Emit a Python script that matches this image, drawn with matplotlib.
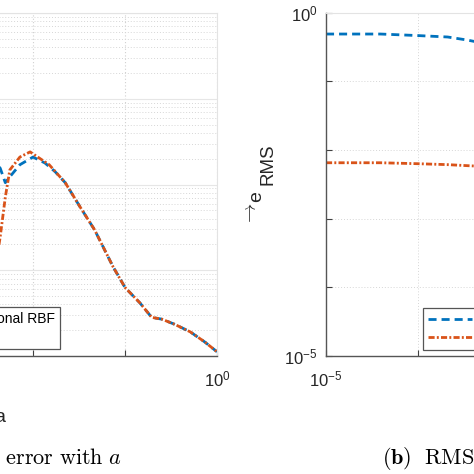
import numpy as np
import matplotlib
matplotlib.use("Agg")
import matplotlib.pyplot as plt
from matplotlib.ticker import LogLocator, FuncFormatter, NullFormatter

plt.rcParams['font.family'] = ['Liberation Sans', 'DejaVu Sans']
plt.rcParams['mathtext.fontset'] = 'custom'
plt.rcParams['mathtext.rm'] = 'Liberation Sans'
plt.rcParams['mathtext.it'] = 'Liberation Sans:italic'
plt.rcParams['axes.unicode_minus'] = False

# ── data ──────────────────────────────────────────────────
# (a) error vs a
a_left = [1e-5, 1e-4, 1e-3, 2.5e-3, 3.5e-3, 4.0e-3, 4.4e-3, 5.0e-3, 5.6e-3,
          7.2e-3, 9.3e-3, 1.5e-2, 2.24e-2, 3.24e-2, 4.68e-2, 7.41e-2, 0.1,
          0.145, 0.195, 0.251, 0.347, 0.513, 0.741, 1.0]
e_prop_left = [5.0e-4, 5.0e-4, 5.0e-4, 4.0e-4, 6.3e-4, 1.26e-3, 2.45e-3, 7.1e-3,
               1.48e-2, 2.09e-2, 2.40e-2, 1.70e-2, 1.05e-2, 5.5e-3, 2.95e-3,
               1.10e-3, 6.3e-4, 4.17e-4, 2.82e-4, 2.69e-4, 2.34e-4, 1.91e-4,
               1.45e-4, 1.12e-4]
a_conv_left = [1e-5, 1e-4, 1e-3, 2.5e-3, 3.5e-3, 4.4e-3, 5.0e-3, 5.6e-3, 7.2e-3,
               1.0e-2, 1.35e-2, 1.74e-2, 2.24e-2, 3.24e-2, 4.68e-2, 7.41e-2, 0.1,
               0.145, 0.195, 0.251, 0.347, 0.513, 0.741, 1.0]
e_conv_left = [6.3e-2, 5.6e-2, 4.0e-2, 2.8e-2, 2.0e-2, 1.55e-2, 1.05e-2, 1.23e-2,
               1.70e-2, 2.09e-2, 1.78e-2, 1.41e-2, 1.05e-2, 5.5e-3, 2.95e-3,
               1.10e-3, 6.3e-4, 4.17e-4, 2.82e-4, 2.69e-4, 2.34e-4, 1.91e-4,
               1.45e-4, 1.12e-4]

# (b) RMS error, second sweep
x_right = [1e-5, 3.9e-5, 9.8e-5, 2.1e-4, 3.4e-4, 1e-3, 1e-2, 1e-1, 1.0]
e_conv_right = [0.486, 0.486, 0.462, 0.44, 0.398, 0.30, 0.08, 0.02, 0.01]
e_prop_right = [6.5e-3, 6.5e-3, 6.3e-3, 6.1e-3, 5.9e-3, 5.5e-3, 4e-3, 2e-3, 1e-3]

labels = ["Conventional RBF", "Proposed"]

BLUE = "#0072BD"
ORANGE = "#D95319"
TXT = "#262626"
W = H = 474.0


def px_axes(x0, y0, x1, y1):
    # pixel box (top-left origin) -> figure fraction
    return [x0 / W, 1 - y1 / H, (x1 - x0) / W, (y1 - y0) / H]


def end_labels(lo, hi):
    def f(v, pos):
        e = int(round(np.log10(v)))
        if e in (lo, hi):
            return r"$\mathdefault{10^{%d}}$" % e
        return ""
    return FuncFormatter(f)


def style_axes(ax, ylo):
    ax.set_xscale("log")
    ax.set_yscale("log")
    ax.set_xlim(1e-5, 1e0)
    ax.set_ylim(10.0 ** ylo, 1e0)
    ax.xaxis.set_major_locator(LogLocator(base=10, numticks=10))
    ax.yaxis.set_major_locator(LogLocator(base=10, numticks=10))
    ax.xaxis.set_major_formatter(end_labels(-5, 0))
    ax.yaxis.set_major_formatter(end_labels(ylo, 0))
    ax.tick_params(which="major", direction="in", length=4, width=0.8,
                   color="#404040", labelsize=12, labelcolor=TXT)
    ax.tick_params(axis="x", pad=10)
    ax.tick_params(axis="y", pad=6)
    ax.tick_params(which="minor", length=0)
    ax.xaxis.set_minor_formatter(NullFormatter())
    ax.yaxis.set_minor_formatter(NullFormatter())
    for s in ("left", "bottom"):
        ax.spines[s].set_color("#555555")
        ax.spines[s].set_linewidth(1.0)
    for s in ("top", "right"):
        ax.spines[s].set_color("#e3e3e3")
        ax.spines[s].set_linewidth(0.8)
    ax.set_axisbelow(True)


def add_legend(ax, loc, anchor):
    leg = ax.legend(loc=loc, bbox_to_anchor=anchor, bbox_transform=fig.transFigure,
                    borderaxespad=0, fontsize=10, handlelength=3.2,
                    handletextpad=0.6, labelspacing=0.3, borderpad=0.35,
                    fancybox=False, framealpha=1, edgecolor="#555555")
    leg.get_frame().set_linewidth(0.9)
    return leg


fig = plt.figure(figsize=(4.74, 4.74), dpi=100)

# ── left panel (mostly cropped) ──
ax1 = fig.add_axes(px_axes(-243, 13, 217, 356))
style_axes(ax1, -4)
ax1.yaxis.set_minor_locator(LogLocator(base=10, subs=np.arange(2, 10), numticks=20))
ax1.grid(True, axis="y", which="major", color="#e6e6e6", linestyle="-", linewidth=0.8)
ax1.grid(True, axis="y", which="minor", color="#d6d6d6", linestyle=(0, (1, 2)), linewidth=0.7)
ax1.grid(True, axis="x", which="major", color="#d0d0d0", linestyle=(0, (1, 2)), linewidth=0.8)

ax1.plot(a_conv_left, e_conv_left, color=BLUE, lw=2.0,
         linestyle=(0, (2.9, 1.8)), label=labels[0])
ax1.plot(a_left, e_prop_left, color=ORANGE, lw=2.0,
         linestyle=(0, (2.2, 0.8, 0.7, 0.8)), label=labels[1])
add_legend(ax1, "lower right", (60 / W, 1 - 349 / H))

# ── right panel (left part only) ──
ax2 = fig.add_axes(px_axes(326, 12.5, 786, 356))
style_axes(ax2, -5)
ax2.grid(True, which="major", color="#d6d6d6", linestyle=(0, (1, 2)), linewidth=0.7)
ax2.plot(x_right, e_conv_right, color=BLUE, lw=2.0,
         linestyle=(0, (2.9, 1.8)), label=labels[0])
ax2.plot(x_right, e_prop_right, color=ORANGE, lw=2.0,
         linestyle=(0, (2.2, 0.8, 0.7, 0.8)), label=labels[1])
add_legend(ax2, "lower left", (423 / W, 1 - 350 / H))

# axis labels (MATLAB-style tex: thin arrow, subscript almost full size)
fig.text(5.5 / W, 1 - 422 / H, "a", fontsize=14, ha="right",
         va="baseline", color=TXT)
fig.text(-10 / W, 1 - 422 / H, r"$\rightarrow$", fontsize=14, ha="right",
         va="baseline", color=TXT, math_fontfamily="cm")
fig.text(256.5 / W, 1 - 225.5 / H, r"$\rightarrow$", fontsize=14, rotation=90,
         rotation_mode="anchor", ha="left", va="baseline", color=TXT,
         math_fontfamily="cm")
fig.text(261 / W, 1 - 202.5 / H, "e", fontsize=14, rotation=90,
         rotation_mode="anchor", ha="left", va="baseline", color=TXT)
fig.text(272 / W, 1 - 185 / H, "RMS", fontsize=13.5, rotation=90,
         rotation_mode="anchor", ha="left", va="baseline", color=TXT)

# sub-captions (LaTeX look)
fig.text(122 / W, 1 - 464 / H, r"$\mathbf{(a)}\ \ \mathrm{RMS\ error\ with}\ a$",
         fontsize=16, ha="right", va="baseline", math_fontfamily="cm")
fig.text(382 / W, 1 - 464 / H, r"$\mathbf{(b)}\ \ \mathrm{RMS\ error\ with}\ b$",
         fontsize=16, ha="left", va="baseline", math_fontfamily="cm")

fig.savefig("out.png", dpi=100)
